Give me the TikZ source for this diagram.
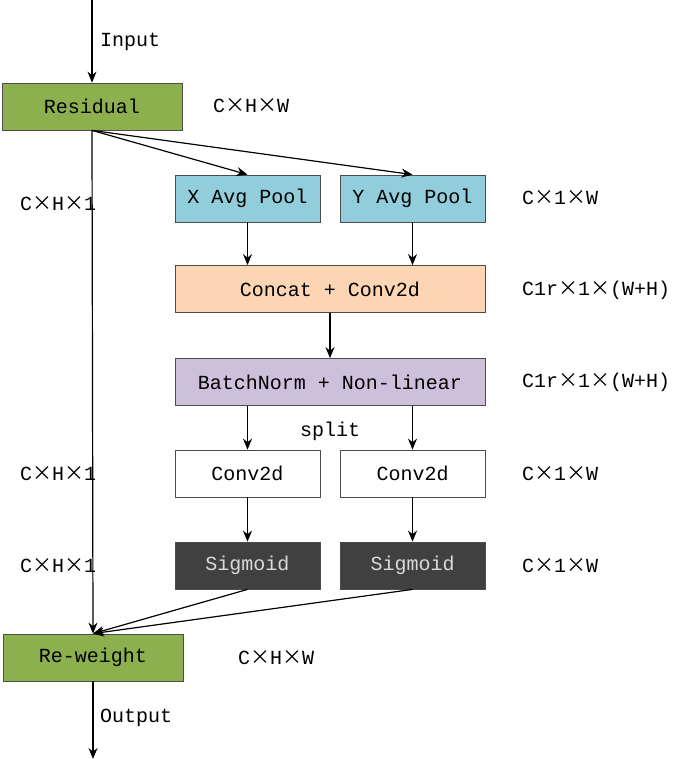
\documentclass[tikz,border=0pt]{standalone}
\usetikzlibrary{arrows.meta}
\usepackage{fontspec}
\setmainfont{Liberation Mono}
\newfontfamily\cjk{Noto Sans CJK SC}
\newcommand{\tms}{{\cjk ×}}
\begin{document}
\begin{tikzpicture}[x=1pt,y=-1pt,
  box/.style={draw=black!70,line width=0.8pt,minimum height=47pt,inner sep=0pt,font=\fontsize{20}{21}\selectfont},
  lbl/.style={font=\fontsize{20}{21}\selectfont,anchor=west,inner sep=0pt},
  arr/.style={-{Stealth[length=11pt,width=9pt]},line width=1.2pt}]
\useasboundingbox (0,0) rectangle (685,759);
\definecolor{gr}{HTML}{8DB04F}
\definecolor{bl}{HTML}{92CDDC}
\definecolor{pe}{HTML}{FCD5B4}
\definecolor{pu}{HTML}{CCC0DA}
\definecolor{dk}{HTML}{404040}
\node[box,fill=gr,minimum width=180pt] (res) at (92,106.5) {Residual};
\node[box,fill=bl,minimum width=145pt] (xp) at (247.5,198.5) {X Avg Pool};
\node[box,fill=bl,minimum width=145pt] (yp) at (412.5,198.5) {Y Avg Pool};
\node[box,fill=pe,minimum width=310pt] (cc) at (330,289) {Concat + Conv2d};
\node[box,fill=pu,minimum width=310pt] (bn) at (330,382) {BatchNorm + Non-linear};
\node[box,fill=white,minimum width=145pt] (c1) at (247.5,473.5) {Conv2d};
\node[box,fill=white,minimum width=145pt] (c2) at (412.5,473.5) {Conv2d};
\node[box,fill=dk,text=black!15,minimum width=145pt] (s1) at (247.5,565.5) {Sigmoid};
\node[box,fill=dk,text=black!15,minimum width=145pt] (s2) at (412.5,565.5) {Sigmoid};
\node[box,fill=gr,minimum width=180pt] (rw) at (93,657.5) {Re-weight};
\coordinate (top) at (92,0);
\coordinate (bot) at (93,759);
\draw[arr] (top) -- (res.north);
\draw[arr] (res.south) -- (rw.north);
\draw[arr] (res.south) -- (xp.north);
\draw[arr] (res.south) -- (yp.north);
\draw[arr] (xp.south) -- (xp.south|-cc.north);
\draw[arr] (yp.south) -- (yp.south|-cc.north);
\draw[arr] (cc.south) -- (bn.north);
\draw[arr] (c1.north|-bn.south) -- (c1.north);
\draw[arr] (c2.north|-bn.south) -- (c2.north);
\draw[arr] (c1.south) -- (s1.north);
\draw[arr] (c2.south) -- (s2.north);
\draw[arr] (s1.south) -- (rw.north);
\draw[arr] (s2.south) -- (rw.north);
\draw[arr] (rw.south) -- (bot);
\node[lbl] (in) at (100,42) {Input};
\node[lbl] (out) at (100,718) {Output};
\node[lbl] at (300,431) {split};
\node[lbl] at (213,106) {C\tms H\tms W};
\node[lbl] at (238,658) {C\tms H\tms W};
\node[lbl] at (20,204) {C\tms H\tms 1};
\node[lbl] at (20,474) {C\tms H\tms 1};
\node[lbl] at (20,566) {C\tms H\tms 1};
\node[lbl] at (522,198) {C\tms 1\tms W};
\node[lbl] at (522,474) {C\tms 1\tms W};
\node[lbl] at (522,566) {C\tms 1\tms W};
\node[lbl] at (522,290) {C1r\tms 1\tms (W+H)};
\node[lbl] at (522,382) {C1r\tms 1\tms (W+H)};
\end{tikzpicture}
\end{document}
